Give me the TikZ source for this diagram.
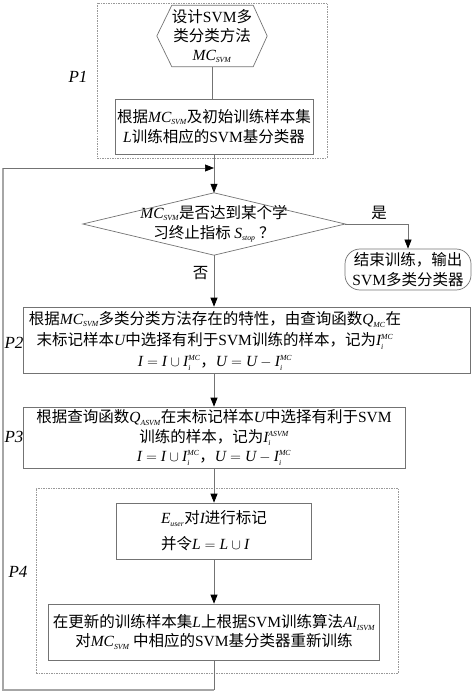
\documentclass[tikz,border=0pt]{standalone}
\usepackage{amsmath,amssymb}
\usepackage{fontspec}
\setmainfont{Noto Sans CJK SC}
\newfontfamily\lat{Liberation Serif}
\usepackage{tikz}
\usetikzlibrary{positioning,arrows.meta}

% Latin pieces: upright SVM and italic variables, tiny indices
\newcommand{\svm}{{\lat SVM}}
\newcommand{\itv}[1]{\text{\lat\itshape #1}}
\newcommand{\smallsub}[1]{{\scriptscriptstyle\itv{#1}}}

\begin{document}
\begin{tikzpicture}[x=1pt, y=-1pt, font=\fontsize{15.5}{20}\selectfont,
    block/.style={rectangle, draw=black!55, line width=0.7pt, align=center, inner sep=2pt},
    group/.style={rectangle, draw=black!40, dash pattern=on 1.5pt off 1pt, line width=0.9pt},
    tag/.style={font=\fontsize{17}{18}\selectfont\lat\itshape},
    link/.style={draw=black!55, line width=0.7pt},
    arrow/.style={link, -{Triangle[length=9pt,width=7pt,color=black]}},
    loop/.style={draw=black!35, line width=2.2pt}]

    \useasboundingbox (0,0) rectangle (474,692);

    % dashed groups
    \node [group, minimum width=230pt, minimum height=155pt] (grp1) at (212,80.5) {};
    \node [group, minimum width=362pt, minimum height=185pt] (grp4) at (217,580.5) {};
    \node [tag] (tag1) at (78,77) {P1};
    \node [tag] (tag2) at (14,343) {P2};
    \node [tag] (tag3) at (14,437) {P3};
    \node [tag] (tag4) at (18,572) {P4};

    % P1: design and initial training
    \node [minimum width=110pt, minimum height=61pt, inner sep=0pt, align=center,
           font=\fontsize{15.5}{19}\selectfont] (design) at (212,36)
          {设计\svm{}多\\类分类方法\\$\itv{MC}_{\smallsub{SVM}}$};
    \draw [link] (design.west) -- ([xshift=15pt]design.north west) -- ([xshift=-14pt]design.north east)
          -- (design.east) -- ([xshift=-14pt]design.south east) -- ([xshift=15pt]design.south west) -- cycle;
    \node [block, minimum width=197pt, minimum height=55pt] (init) at (214,126.5)
          {根据$\itv{MC}_{\smallsub{SVM}}$及初始训练样本集\\$\itv{L}$训练相应的\svm{}基分类器};

    % stop test
    \coordinate (merge) at (214,168);
    \node [minimum width=262pt, minimum height=62pt, inner sep=0pt, align=center] (stop) at (214,224)
          {$\itv{MC}_{\smallsub{SVM}}$是否达到某个学\\习终止指标 $\itv{S}_{\smallsub{stop}}$ ？};
    \draw [link] (stop.west) -- (stop.north) -- (stop.east) -- (stop.south) -- cycle;
    \node [block, rounded corners=15pt, minimum width=126pt, minimum height=41pt] (finish) at (408,269.5)
          {结束训练，输出\\\svm{}多类分类器};

    % P2, P3: query functions
    \node [block, minimum width=447pt, minimum height=66pt] (p2) at (246.5,340) {};
    \node [align=center, font=\fontsize{15.5}{21}\selectfont] (p2text) at (215,341)
          {根据$\itv{MC}_{\smallsub{SVM}}$多类分类方法存在的特性，由查询函数$\itv{Q}_{\smallsub{MC}}$在\\
           末标记样本$\itv{U}$中选择有利于\svm{}训练的样本，记为$\itv{I}_{\smallsub{i}}^{\smallsub{MC}}$\\
           $\itv{I} = \itv{I}\cup\itv{I}_{\smallsub{i}}^{\smallsub{MC}}$，$\itv{U} = \itv{U} - \itv{I}_{\smallsub{i}}^{\smallsub{MC}}$};
    \node [block, minimum width=382pt, minimum height=61pt, font=\fontsize{15.5}{19.5}\selectfont] (p3) at (214,437.5)
          {根据查询函数$\itv{Q}_{\smallsub{ASVM}}$在末标记样本$\itv{U}$中选择有利于\svm\\
           训练的样本，记为$\itv{I}_{\smallsub{i}}^{\smallsub{ASVM}}$\\
           $\itv{I} = \itv{I}\cup\itv{I}_{\smallsub{i}}^{\smallsub{MC}}$，$\itv{U} = \itv{U} - \itv{I}_{\smallsub{i}}^{\smallsub{MC}}$};

    % P4: labelling and retraining
    \node [block, align=left, minimum width=195pt, minimum height=56pt] (label) at (214,531)
          {$\itv{E}_{\smallsub{user}}$对$\itv{I}$进行标记\\[6pt]并令$\itv{L} = \itv{L}\cup\itv{I}$};
    \node [block, minimum width=331pt, minimum height=56pt, font=\fontsize{15.5}{19}\selectfont] (retrain) at (214,632)
          {在更新的训练样本集$\itv{L}$上根据\svm{}训练算法$\itv{Al}_{\smallsub{ISVM}}$\\
           对$\itv{MC}_{\smallsub{SVM}}$ 中相应的\svm{}基分类器重新训练};

    \coordinate (low) at (3,690);
    \coordinate (high) at (3,168);

    \draw [link] (design.south) -- (design.south |- init.north);
    \draw [link] (init.south) -- (merge);
    \draw [arrow] (merge) -- (stop.north);
    \draw [arrow] (stop.east) -| node [pos=0.27, above=1pt] (yes) {是} (finish.north);
    \draw [arrow] (stop.south) -- node [pos=0.35, left=2pt] (no) {否} (stop.south |- p2.north);
    \draw [arrow] (p2.south -| p3.north) -- (p3.north);
    \draw [arrow] (p3.south) -- (label.north);
    \draw [arrow] (label.south) -- (retrain.north);
    \draw [link] (retrain.south) -- (retrain.south |- low);
    \draw [loop] (retrain.south |- low) -- (low) -- (high);
    \draw [arrow] (high) -- (merge);
\end{tikzpicture}
\end{document}
